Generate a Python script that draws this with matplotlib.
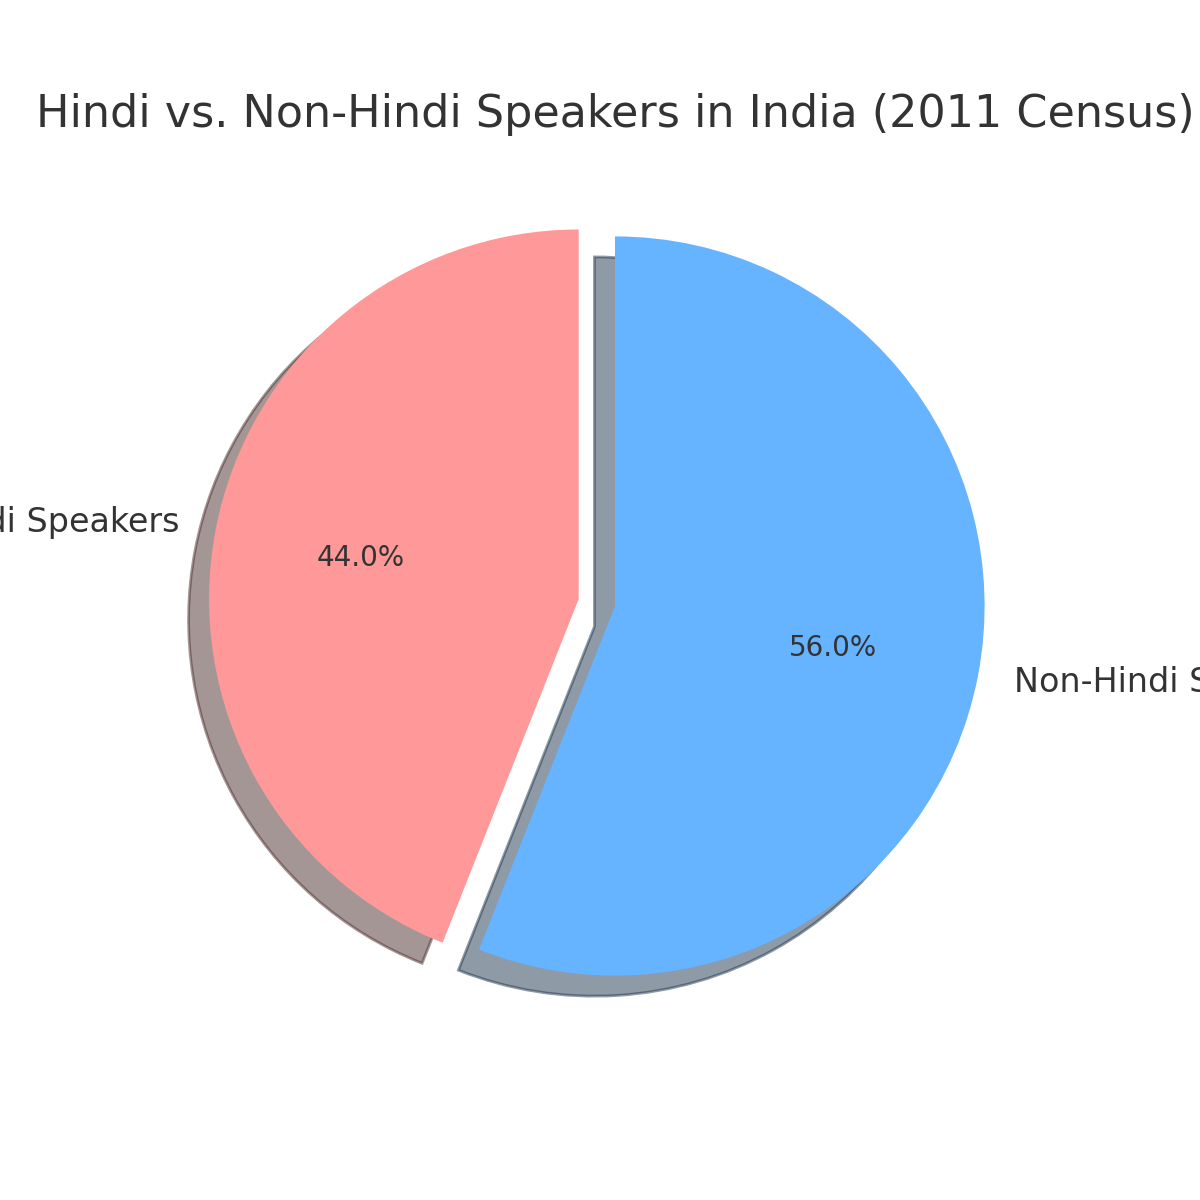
import matplotlib
matplotlib.use("Agg")
import matplotlib.pyplot as plt

labels = ["Hindi Speakers", "Non-Hindi Speakers"]
values = [44.0, 56.0]
colors = ["#ff9999", "#66b3ff"]
explode = [0.1, 0]
title = "Hindi vs. Non-Hindi Speakers in India (2011 Census)"

plt.rcParams['text.color'] = '#333333'
fig, ax = plt.subplots(figsize=(6, 6), dpi=200)
wedges, texts, autotexts = ax.pie(values, labels=labels, colors=colors, explode=explode,
                                  autopct='%1.1f%%', shadow=True, startangle=90,
                                  textprops={'color': '#333333'})
for t in texts:
    t.set_fontsize(12)
for t in autotexts:
    t.set_fontsize(10)
ax.set_title(title, fontsize=16, color='#333333')
fig.savefig("out.png", dpi=200)
